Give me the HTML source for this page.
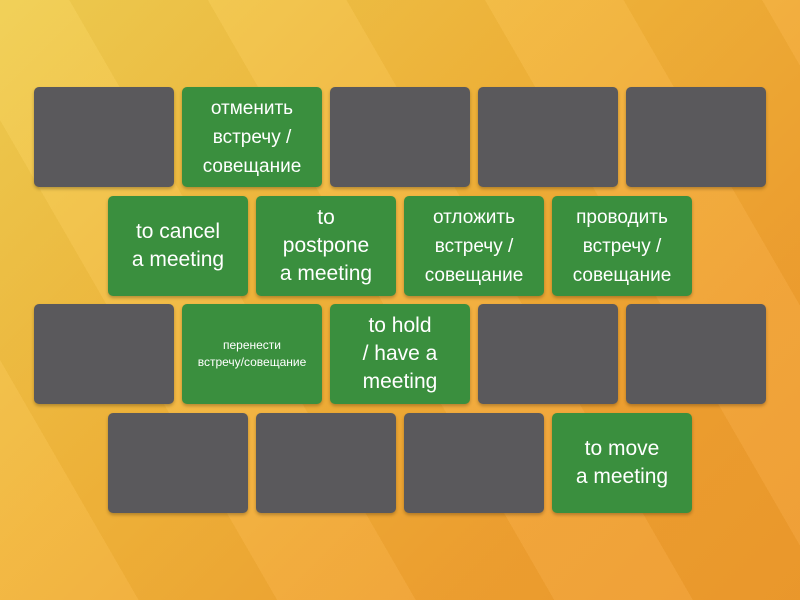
<!DOCTYPE html>
<html><head><meta charset="utf-8"><style>
html,body{margin:0;padding:0}
body{width:800px;height:600px;overflow:hidden;position:relative;
background:linear-gradient(135deg,#f0ce50 0%,#f2b53a 40%,#f0a030 75%,#ee9a2c 100%);}
.s{position:absolute;inset:0;background:repeating-linear-gradient(60deg,rgba(255,255,255,0.05) 0 120px,rgba(0,0,0,0.02) 120px 240px);}
.t{position:absolute;width:140px;height:100px;border-radius:5px;box-shadow:0 2px 3px rgba(0,0,0,0.25);
display:flex;align-items:center;justify-content:center;text-align:center;color:#fff;
font-family:"Liberation Sans","DejaVu Sans",sans-serif;}
.g{background:#5a595c}
.v{background:#3a8f3e}
.r{font-size:19px;line-height:29px}
.e{font-size:21px;line-height:28px}
.sm{font-size:12px;line-height:17px}
</style></head><body><div class="s"></div>
<div class="t g" style="left:34px;top:87px"></div>
<div class="t v r" style="left:182px;top:87px">отменить<br>встречу /<br>совещание</div>
<div class="t g" style="left:330px;top:87px"></div>
<div class="t g" style="left:478px;top:87px"></div>
<div class="t g" style="left:626px;top:87px"></div>

<div class="t v e" style="left:108px;top:196px">to cancel<br>a meeting</div>
<div class="t v e" style="left:256px;top:196px">to<br>postpone<br>a meeting</div>
<div class="t v r" style="left:404px;top:196px">отложить<br>встречу /<br>совещание</div>
<div class="t v r" style="left:552px;top:196px">проводить<br>встречу /<br>совещание</div>

<div class="t g" style="left:34px;top:304px"></div>
<div class="t v sm" style="left:182px;top:304px">перенести<br>встречу/совещание</div>
<div class="t v e" style="left:330px;top:304px">to hold<br>/ have a<br>meeting</div>
<div class="t g" style="left:478px;top:304px"></div>
<div class="t g" style="left:626px;top:304px"></div>

<div class="t g" style="left:108px;top:413px"></div>
<div class="t g" style="left:256px;top:413px"></div>
<div class="t g" style="left:404px;top:413px"></div>
<div class="t v e" style="left:552px;top:413px">to move<br>a meeting</div>
</body></html>
